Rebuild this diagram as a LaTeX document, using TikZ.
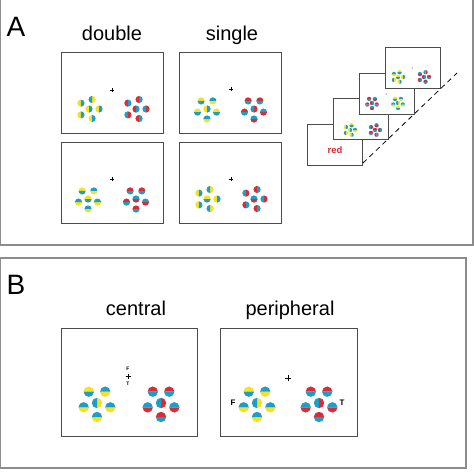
\documentclass[tikz,border=0pt]{standalone}
\usepackage{fontspec}
\setmainfont{Liberation Sans}
\usepackage{tikz}
\usepackage{xcolor}

\definecolor{dotyellow}{RGB}{245,226,38}
\definecolor{dotcyan}{RGB}{28,158,198}
\definecolor{dotred}{RGB}{216,44,56}
\definecolor{framegray}{RGB}{140,140,140}

% half-and-half dot: position, radius, split angle, first colour, second colour
\newcommand{\halfdot}[5]{%
  \fill[#4] (#1) ++({#3}:#2) arc[start angle=#3, delta angle=180, radius=#2] -- cycle;
  \fill[#5] (#1) ++({#3+180}:#2) arc[start angle=#3+180, delta angle=180, radius=#2] -- cycle;}

% six dots: centre, ring radius, dot radius, rotation, colours, ring splits, centre split
\newcommand{\cluster}[8]{%
  \begin{scope}[shift={(#1)}]
    \foreach \s [count=\i] in {#7}
      {\halfdot{{#4+72*\i}:#2}{#3}{\s}{#5}{#6}}
    \halfdot{0,0}{#3}{#8}{#5}{#6}
  \end{scope}}

\newcommand{\fixcross}[2]{%
  \draw[line width=0.6pt] (#1) ++(-#2,0) -- ++(2*#2,0) (#1) ++(0,-#2) -- ++(0,2*#2);}

\begin{document}
\begin{tikzpicture}[x=1pt,y=-1pt,
  screen/.style={draw=black!70,line width=0.9pt,fill=white},
  panel/.style={draw=framegray,line width=1.4pt},
  heading/.style={font=\fontsize{20}{24}\selectfont,anchor=base},
  letter/.style={font=\fontsize{28}{32}\selectfont}]
  \useasboundingbox (0,0) rectangle (474,472);

  \draw[panel] (0,-3) rectangle (473,245);
  \draw[panel] (0,258) rectangle (466,468);

  % panel A
  \node[letter] (labA) at (16,27) {A};
  \node[heading] (hdouble) at (112,40) {double};
  \node[heading] (hsingle) at (232,40) {single};

  \draw[screen] (61,52) rectangle (163,133);
  \draw[screen] (179,52) rectangle (281,133);
  \draw[screen] (61,142) rectangle (163,223);
  \draw[screen] (179,142) rectangle (281,223);

  \fixcross{112,90}{1.8}
  \fixcross{231,89}{1.8}
  \fixcross{112,179}{1.8}
  \fixcross{231,179}{1.8}

  \cluster{89,109}{10}{3.6}{0}{dotyellow}{dotcyan}{90,90,90,270,90}{90}
  \cluster{136,109}{10}{3.6}{0}{dotred}{dotcyan}{90,270,90,90,270}{90}
  \cluster{207,109}{10}{3.6}{18}{dotyellow}{dotcyan}{0,180,180,0,180}{90}
  \cluster{254,109}{10}{3.6}{18}{dotred}{dotcyan}{0,180,180,180,0}{270}
  \cluster{88,199}{10}{3.6}{18}{dotyellow}{dotcyan}{0,0,180,0,0}{180}
  \cluster{136,199}{10}{3.6}{18}{dotred}{dotcyan}{180,180,180,180,0}{0}
  \cluster{207,199}{10}{3.6}{0}{dotyellow}{dotcyan}{270,90,90,270,90}{180}
  \cluster{254,199}{10}{3.6}{0}{dotred}{dotcyan}{90,90,270,90,270}{0}

  % trial sequence
  \foreach \k in {0,...,3}
    \draw[screen,line width=0.8pt] (307+26*\k,124-25.5*\k) rectangle ++(55,41);
  \node[text=dotred,font=\fontsize{9.5}{11}\bfseries] (cue) at (335,150) {red};
  \cluster{350,130}{5}{2.2}{0}{dotyellow}{dotcyan}{90,270,90,180,0}{90}
  \cluster{375,130}{5}{2.2}{0}{dotred}{dotcyan}{90,180,270,0,90}{180}
  \cluster{372,103}{5}{2.2}{18}{dotred}{dotcyan}{0,180,180,0,180}{90}
  \cluster{398,103}{5}{2.2}{18}{dotyellow}{dotcyan}{180,0,180,0,0}{270}
  \cluster{398,77}{5}{2.2}{0}{dotyellow}{dotcyan}{90,270,0,180,90}{180}
  \cluster{424,77}{5}{2.2}{0}{dotred}{dotcyan}{180,90,0,270,180}{90}
  \fill (412,68) circle (0.5);
  \fill (386,94) circle (0.5);
  \coordinate (tbeg) at (363,163);
  \coordinate (tend) at (457,73);
  \draw[line width=0.8pt,dash pattern=on 5pt off 4pt] (tbeg) -- (tend);

  % panel B
  \node[letter] (labB) at (16,285) {B};
  \node[heading] (hcentral) at (136,315) {central};
  \node[heading] (hperiph) at (290,315) {peripheral};

  \draw[screen] (61,328) rectangle (197,436);
  \draw[screen] (220,328) rectangle (357,436);

  \node[font=\fontsize{5}{6}\bfseries,inner sep=0pt] (cf) at (128,369) {F};
  \fixcross{128,376}{2.5}
  \node[font=\fontsize{5}{6}\bfseries,inner sep=0pt] (ct) at (128,384) {T};
  \cluster{97,403}{14}{5.2}{18}{dotyellow}{dotcyan}{0,0,180,0,0}{270}
  \cluster{161,403}{14}{5.2}{18}{dotred}{dotcyan}{180,0,180,180,0}{270}

  \fixcross{288,378}{3}
  \node[font=\fontsize{8}{9}\bfseries,inner sep=0pt] (pf) at (233,403) {F};
  \node[font=\fontsize{8}{9}\bfseries,inner sep=0pt] (pt) at (342,403) {T};
  \cluster{257,403}{14}{5.2}{18}{dotyellow}{dotcyan}{0,0,180,0,0}{270}
  \cluster{319,403}{14}{5.2}{18}{dotred}{dotcyan}{180,0,180,180,0}{270}
\end{tikzpicture}
\end{document}
